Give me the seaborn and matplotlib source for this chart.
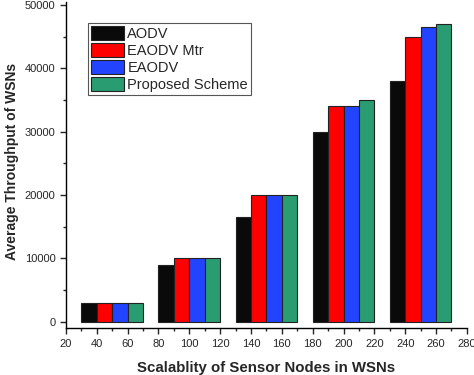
import numpy as np
import pandas as pd
import seaborn as sns
import matplotlib.pyplot as plt
from matplotlib.ticker import MultipleLocator

# Datos
nodes = [50, 100, 150, 200, 250]
aodv = [3000, 9000, 16500, 30000, 38000]
eaodv_mtr = [3000, 10000, 20000, 34000, 45000]
eaodv = [3000, 10000, 20000, 34000, 46500]
proposed = [3000, 10000, 20000, 35000, 47000]
schemes = ['AODV', 'EAODV Mtr', 'EAODV', 'Proposed Scheme']
colors = ['#0a0a0a', '#ff0000', '#2244ff', '#2a9c72']

df = pd.DataFrame({
    'nodes': nodes * 4,
    'throughput': aodv + eaodv_mtr + eaodv + proposed,
    'scheme': [s for s in schemes for _ in nodes],
})

sns.set_style('ticks')
plt.rcParams['font.family'] = ['Liberation Sans', 'DejaVu Sans']

fig = plt.figure(figsize=(4.74, 3.75), dpi=100)
ax = fig.add_axes([0.139, 0.125, 0.846, 0.87])

sns.barplot(data=df, x='nodes', y='throughput', hue='scheme', hue_order=schemes,
            palette=colors, native_scale=True, width=0.8, edgecolor='#222222',
            linewidth=0.8, saturation=1, ax=ax)

ax.set_xlim(20, 280)
ax.set_ylim(-1000, 50500)
ax.xaxis.set_major_locator(MultipleLocator(20))
ax.xaxis.set_minor_locator(MultipleLocator(10))
ax.yaxis.set_major_locator(MultipleLocator(10000))
ax.yaxis.set_minor_locator(MultipleLocator(5000))
ax.tick_params(which='major', direction='out', length=4, width=1, labelsize=8)
ax.tick_params(which='minor', direction='out', length=2.5, width=1)
for s in ['top', 'right']:
    ax.spines[s].set_visible(False)
for s in ['left', 'bottom']:
    ax.spines[s].set_linewidth(1)
    ax.spines[s].set_color('black')

ax.set_xlabel('Scalablity of Sensor Nodes in WSNs', fontsize=10.8, fontweight='bold', labelpad=9)
ax.set_ylabel('Average Throughput of WSNs', fontsize=10, fontweight='bold')
ax.yaxis.set_label_coords(-0.117, 0.51)

leg = ax.legend(loc='upper left', bbox_to_anchor=(0.055, 0.936), fontsize=10.5,
                handlelength=2.3, handleheight=1.1, handletextpad=0.2,
                labelspacing=0.15, borderpad=0.2, borderaxespad=0, fancybox=False,
                edgecolor='#555555', framealpha=1, title=None)
leg.get_frame().set_linewidth(0.8)

fig.savefig('out.png', dpi=100)
